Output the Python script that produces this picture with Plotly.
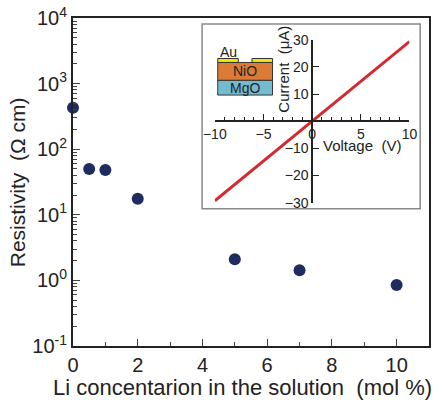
import plotly.graph_objects as go

# main panel: resistivity vs Li concentration
li_conc = [0, 0.5, 1, 2, 5, 7, 10]
resistivity = [430, 50, 48, 17.5, 2.1, 1.43, 0.85]

# inset: I-V curve
voltage = [-10, 0, 10]
current = [-29.3, 0, 29.3]

y_tickvals = [0.1, 1, 10, 100, 1000, 10000]
y_ticktext = ["10<sup>-1</sup>", "10<sup>0</sup>", "10<sup>1</sup>",
              "10<sup>2</sup>", "10<sup>3</sup>", "10<sup>4</sup>"]
y_minor = [m * 10 ** k for k in range(-1, 4) for m in range(2, 10)]

W, H = 441, 404
L, R, T, B = 73, 4, 14, 58


def px(x):
    return (x - L) / (W - L - R)


def py(y):
    return (H - B - y) / (H - T - B)


font = "Liberation Sans, Arial, sans-serif"

fig = go.Figure()
fig.add_trace(go.Scatter(x=li_conc, y=resistivity, mode="markers",
                         marker=dict(color="#1f2d5e", size=12),
                         cliponaxis=False, showlegend=False))
fig.add_trace(go.Scatter(x=voltage, y=current, mode="lines",
                         line=dict(color="#d42a2f", width=3),
                         xaxis="x2", yaxis="y2", showlegend=False))

fig.update_layout(
    width=W, height=H,
    margin=dict(l=L, r=R, t=T, b=B),
    paper_bgcolor="white", plot_bgcolor="white",
    font=dict(family=font, color="#222", size=19),
    xaxis=dict(range=[0, 11], tickvals=[0, 2, 4, 6, 8, 10], ticks="inside",
               ticklen=7, tickcolor="#444", showgrid=False, zeroline=False,
               showline=True, linecolor="#222", linewidth=2, mirror=True,
               minor=dict(tickvals=[1, 3, 5, 7, 9], ticks="inside", ticklen=4,
                          tickcolor="#444"),
               tickfont=dict(size=20), ticklabeloverflow="allow"),
    yaxis=dict(type="log", range=[-1, 4], tickmode="array", tickvals=y_tickvals,
               ticktext=y_ticktext, ticks="inside", ticklen=7, tickcolor="#444",
               showgrid=False, zeroline=False, showline=True, linecolor="#222",
               linewidth=2, mirror=True,
               minor=dict(tickvals=y_minor, ticks="inside", ticklen=4,
                          tickcolor="#444"),
               tickfont=dict(size=20), ticklabeloverflow="allow"),
    xaxis2=dict(domain=[px(218), px(417)], range=[-10, 10], anchor="free",
                position=(py(201) + py(36)) / 2, tickvals=[-10, -5, 0, 5, 10],
                ticks="inside", ticklen=6, tickcolor="#222", showgrid=False,
                zeroline=False, showline=True, linecolor="#222", linewidth=1.5,
                minor=dict(dtick=1, ticks="inside", ticklen=3, tickcolor="#222"),
                tickfont=dict(size=14)),
    yaxis2=dict(domain=[py(201), py(36)], range=[-30, 30], anchor="free",
                position=(px(218) + px(417)) / 2,
                tickvals=[-30, -20, -10, 10, 20, 30], ticks="inside", ticklen=6,
                tickcolor="#222", showgrid=False, zeroline=False, showline=True,
                linecolor="#222", linewidth=1.5, tickfont=dict(size=14)),
)

shapes = [
    # inset frame
    dict(type="rect", xref="paper", yref="paper", x0=px(205), x1=px(428),
         y0=py(207), y1=py(20), line=dict(color="#888", width=1.5),
         fillcolor="rgba(0,0,0,0)", layer="below"),
    # layer stack
    dict(type="rect", xref="paper", yref="paper", x0=px(221), x1=px(277),
         y0=py(92), y1=py(77), line=dict(color="#333", width=1),
         fillcolor="#72bcd0"),
    dict(type="rect", xref="paper", yref="paper", x0=px(221), x1=px(277),
         y0=py(77), y1=py(59), line=dict(color="#333", width=1),
         fillcolor="#db7b35"),
    dict(type="rect", xref="paper", yref="paper", x0=px(221), x1=px(242),
         y0=py(59), y1=py(55), line=dict(color="#333", width=1),
         fillcolor="#f2e600"),
    dict(type="rect", xref="paper", yref="paper", x0=px(256), x1=px(277),
         y0=py(59), y1=py(55), line=dict(color="#333", width=1),
         fillcolor="#f2e600"),
]
fig.update_layout(shapes=shapes)

annotations = [
    dict(text="Resistivity  (\u03a9 cm)", x=px(16), y=py(180), textangle=-90,
         font=dict(size=21)),
    dict(text="Li concentarion in the solution  (mol %)", x=px(246), y=py(388),
         font=dict(size=22)),
    dict(text="Voltage  (V)", x=px(368), y=py(143), font=dict(size=15)),
    dict(text="Current  (\u03bcA)", x=px(288), y=py(66), textangle=-90,
         font=dict(size=15)),
    dict(text="Au", x=px(221), y=py(48), xanchor="left", font=dict(size=14)),
    dict(text="NiO", x=px(249), y=py(68), font=dict(size=14)),
    dict(text="MgO", x=px(249), y=py(85), font=dict(size=14)),
]
for a in annotations:
    a.setdefault("xanchor", "center")
    a.update(xref="paper", yref="paper", showarrow=False, yanchor="middle")
fig.update_layout(annotations=annotations)

fig.write_html("out.html", config={"displayModeBar": False},
               post_script="document.body.style.margin='0px';")
